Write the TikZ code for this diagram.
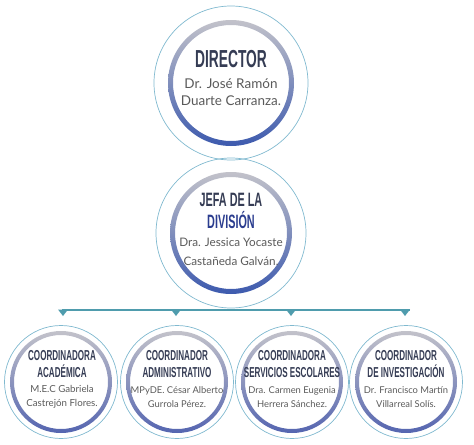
\documentclass[tikz,border=0pt]{standalone}
\usepackage{fontspec}
\setmainfont{Lato}
\newfontfamily\headfont[FakeStretch=0.56]{Liberation Sans}
\usetikzlibrary{positioning}
\definecolor{ringteal}{HTML}{80B9CF}
\definecolor{ringgray}{HTML}{C2C2CA}
\definecolor{ringmid}{HTML}{A0A2BE}
\definecolor{ringblue}{HTML}{3D5AAE}
\definecolor{lowblue}{HTML}{5565B0}
\definecolor{busteal}{HTML}{4F9CAD}
\definecolor{headnavy}{HTML}{353C54}
\definecolor{headblue}{HTML}{2B3D8F}
\definecolor{namegray}{HTML}{5A5A5A}

\begin{document}
\begin{tikzpicture}[
    x=0.03cm, y=0.03cm,
    outline/.style={draw=ringteal, line width=0.6pt},
    ring/.style={even odd rule, top color=ringgray, middle color=ringmid, bottom color=ringblue},
    lowring/.style={even odd rule, top color=ringgray, middle color=ringmid, bottom color=lowblue},
    headtext/.style={text=headnavy, align=center, inner sep=0pt, font=\headfont\bfseries},
    nametext/.style={text=namegray, align=center, inner sep=0pt},
    bus/.style={draw=busteal, line width=1.1pt}
]
    \useasboundingbox (0,0) rectangle (474,-444);

    % centres
    \coordinate (director) at (231,-83);
    \coordinate (jefa) at (231,-233);
    \coordinate (academica) at (61,-382);
    \coordinate (admin) at (177,-382);
    \coordinate (escolares) at (292,-382);
    \coordinate (investig) at (406,-382);

    % upper circles
    \foreach \c/\r in {director/77, jefa/75} {
        \draw[outline] (\c) circle (\r);
        \shade[ring] (\c) circle (\r-14) circle (\r-19);
    }

    % lower circles
    \foreach \c in {academica, admin, escolares, investig} {
        \draw[outline] (\c) circle (56.5);
        \shade[lowring] (\c) circle (51) circle (47);
    }

    % bus with pointers
    \coordinate (busL) at (62,-310);
    \coordinate (busR) at (410,-310);
    \draw[bus] (busL) -- (busR);
    \foreach \x in {63, 176, 291, 405}
        \fill[busteal] (\x-5,-309.5) -- (\x+5,-309.5) -- (\x,-316) -- cycle;

    % texts
    \node[headtext, font=\headfont\bfseries\fontsize{21}{21}\selectfont] (dirtitle) at (231,-59) {DIRECTOR};
    \node[nametext, font=\fontsize{11.5}{14.5}\selectfont] (dirname) at (231,-92) {Dr. José Ramón\\Duarte Carranza.};

    \node[headtext, font=\headfont\bfseries\fontsize{16.5}{18.7}\selectfont] (jefatitle) at (231,-211) {JEFA DE LA\\\textcolor{headblue}{DIVISIÓN}};
    \node[nametext, font=\fontsize{10}{16}\selectfont] (jefaname) at (231,-252) {Dra. Jessica Yocaste\\Castañeda Galván.};

    \node[headtext, font=\headfont\bfseries\fontsize{12.3}{14.5}\selectfont] (acadtitle) at (62,-364) {COORDINADORA\\ACADÉMICA};
    \node[nametext, font=\fontsize{8.3}{12}\selectfont] (acadname) at (62,-397) {M.E.C Gabriela\\Castrejón Flores.};

    \node[headtext, font=\headfont\bfseries\fontsize{12.3}{14.5}\selectfont] (admintitle) at (177,-364) {COORDINADOR\\ADMINISTRATIVO};
    \node[nametext, font=\fontsize{8}{12}\selectfont] (adminname) at (177,-397) {MPyDE. César Alberto\\Gurrola Pérez.};

    \node[headtext, font=\headfont\bfseries\fontsize{12.3}{14.5}\selectfont] (esctitle) at (292,-364) {COORDINADORA\\SERVICIOS ESCOLARES};
    \node[nametext, font=\fontsize{8}{12}\selectfont] (escname) at (292,-397) {Dra. Carmen Eugenia\\Herrera Sánchez.};

    \node[headtext, font=\headfont\bfseries\fontsize{12.3}{14.5}\selectfont] (invtitle) at (406,-364) {COORDINADOR\\DE INVESTIGACIÓN};
    \node[nametext, font=\fontsize{8}{12}\selectfont] (invname) at (406,-397) {Dr. Francisco Martín\\Villarreal Solís.};
\end{tikzpicture}
\end{document}
